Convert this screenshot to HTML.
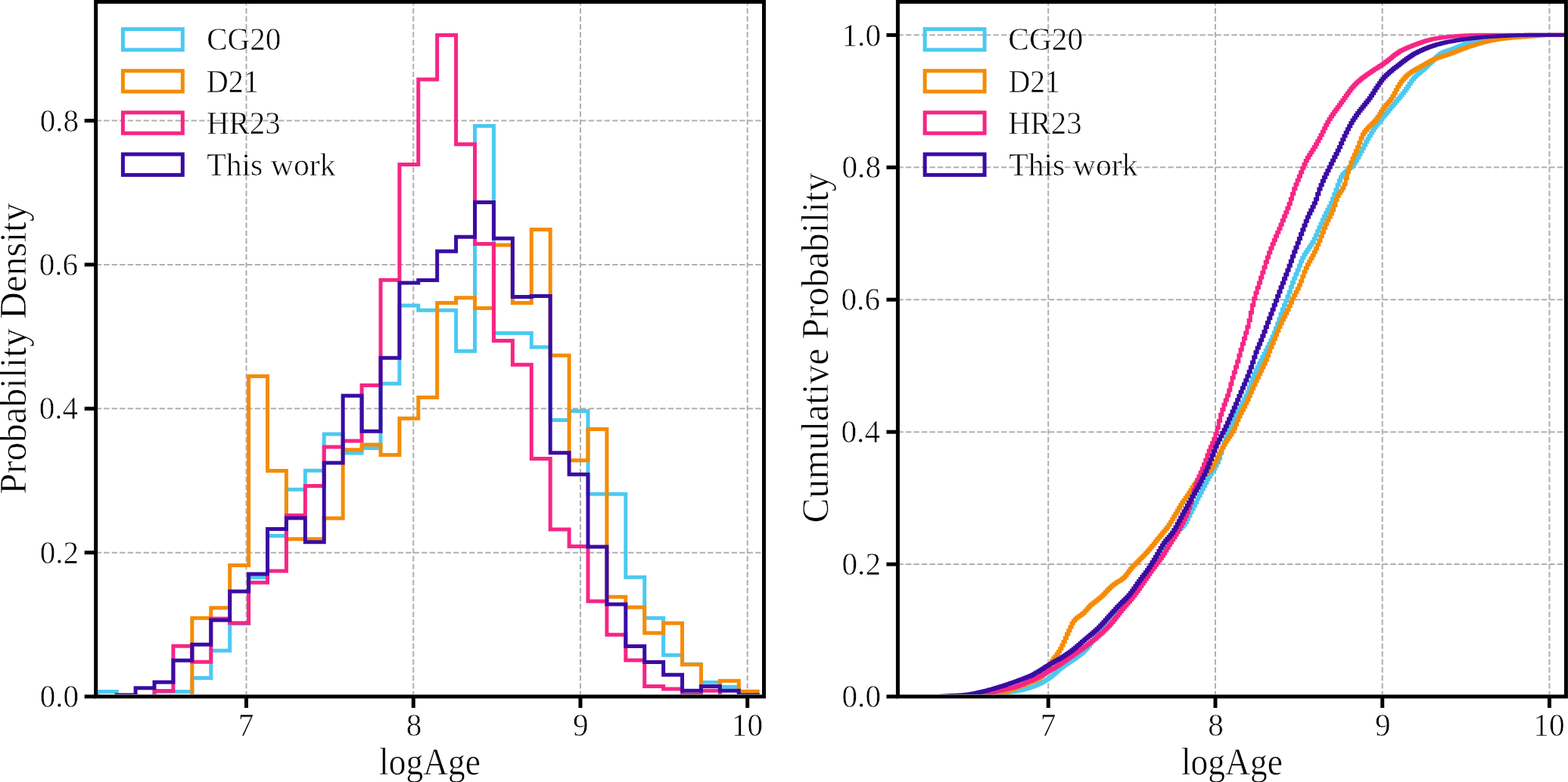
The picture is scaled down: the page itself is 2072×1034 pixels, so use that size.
<!DOCTYPE html>
<html><head><meta charset="utf-8"><title>logAge distributions</title>
<style>html,body{margin:0;padding:0;background:#fff;}svg{display:block;}text{font-family:'Liberation Serif', 'DejaVu Serif', serif;fill:#000;stroke:#fff;stroke-width:0.6;}</style></head><body>
<svg width="2072" height="1034" viewBox="0 0 2072 1034">
<rect x="0" y="0" width="2072" height="1034" fill="#fff"/>
<defs>
<clipPath id="cl"><rect x="129.15" y="5" width="877.85" height="913"/></clipPath>
<clipPath id="cr"><rect x="1188.9" y="5" width="878" height="913"/></clipPath>
</defs>
<g clip-path="url(#cl)" stroke="#b0b0b0" stroke-width="2" stroke-dasharray="7.33 3.17" fill="none"><line x1="325.5" y1="921" x2="325.5" y2="2.4"/><line x1="546.25" y1="921" x2="546.25" y2="2.4"/><line x1="766.95" y1="921" x2="766.95" y2="2.4"/><line x1="987.7" y1="921" x2="987.7" y2="2.4"/><line x1="126.65" y1="730.64" x2="1009.5" y2="730.64"/><line x1="126.65" y1="540.28" x2="1009.5" y2="540.28"/><line x1="126.65" y1="349.92" x2="1009.5" y2="349.92"/><line x1="126.65" y1="159.56" x2="1009.5" y2="159.56"/></g>
<g clip-path="url(#cl)" fill="none" stroke-width="5" stroke-linejoin="miter" stroke-linecap="butt">
<path d="M129.3 921 L129.3 914.6 L154.21 914.6 L154.21 921 L179.12 921 L204.03 921 L204.03 914.6 L228.94 914.6 L253.86 914.6 L253.86 896.5 L278.77 896.5 L278.77 860.3 L303.68 860.3 L303.68 824.5 L328.59 824.5 L328.59 763.5 L353.5 763.5 L353.5 708.4 L378.41 708.4 L378.41 647.3 L403.32 647.3 L403.32 622.3 L428.23 622.3 L428.23 574 L453.14 574 L453.14 599.1 L478.05 599.1 L478.05 592.6 L502.97 592.6 L502.97 507.3 L527.88 507.3 L527.88 404.1 L552.79 404.1 L552.79 410.3 L577.7 410.3 L577.7 410.2 L602.61 410.2 L602.61 464.3 L627.52 464.3 L627.52 166.6 L652.43 166.6 L652.43 440.4 L677.34 440.4 L702.25 440.4 L702.25 458.9 L727.16 458.9 L727.16 555.6 L752.08 555.6 L752.08 543.5 L776.99 543.5 L776.99 653.3 L801.9 653.3 L826.81 653.3 L826.81 763.3 L851.72 763.3 L851.72 817.3 L876.63 817.3 L876.63 866.2 L901.54 866.2 L901.54 878.2 L926.45 878.2 L926.45 902.3 L951.36 902.3 L951.36 908.3 L976.27 908.3 L976.27 921 L1001.18 921" stroke="#4cc9f0"/>
<path d="M129.3 921 L154.21 921 L179.12 921 L204.03 921 L228.94 921 L253.86 921 L253.86 817.2 L278.77 817.2 L278.77 803.7 L303.68 803.7 L303.68 747.5 L328.59 747.5 L328.59 497.6 L353.5 497.6 L353.5 622.4 L378.41 622.4 L378.41 712.7 L403.32 712.7 L428.23 712.7 L428.23 685.3 L453.14 685.3 L453.14 594.7 L478.05 594.7 L478.05 587.9 L502.97 587.9 L502.97 601.5 L527.88 601.5 L527.88 553.3 L552.79 553.3 L552.79 525.5 L577.7 525.5 L577.7 400.6 L602.61 400.6 L602.61 393.7 L627.52 393.7 L627.52 407.5 L652.43 407.5 L652.43 324.1 L677.34 324.1 L677.34 400.4 L702.25 400.4 L702.25 303.6 L727.16 303.6 L727.16 470 L752.08 470 L752.08 608.8 L776.99 608.8 L776.99 567.4 L801.9 567.4 L801.9 789.2 L826.81 789.2 L826.81 803.1 L851.72 803.1 L851.72 837.1 L876.63 837.1 L876.63 824 L901.54 824 L901.54 878.8 L926.45 878.8 L926.45 907.5 L951.36 907.5 L951.36 900.3 L976.27 900.3 L976.27 914.2 L1001.18 914.2 L1001.18 921" stroke="#f48c06"/>
<path d="M129.3 921 L154.21 921 L179.12 921 L204.03 921 L204.03 913.4 L228.94 913.4 L228.94 854.3 L253.86 854.3 L253.86 875.3 L278.77 875.3 L278.77 818 L303.68 818 L303.68 823.8 L328.59 823.8 L328.59 770.3 L353.5 770.3 L353.5 755 L378.41 755 L378.41 681.5 L403.32 681.5 L403.32 642.5 L428.23 642.5 L428.23 591 L453.14 591 L453.14 583 L478.05 583 L478.05 509.6 L502.97 509.6 L502.97 370.3 L527.88 370.3 L527.88 217.6 L552.79 217.6 L552.79 105.1 L577.7 105.1 L577.7 46.4 L602.61 46.4 L602.61 190.7 L627.52 190.7 L627.52 322.5 L652.43 322.5 L652.43 450.4 L677.34 450.4 L677.34 482.3 L702.25 482.3 L702.25 606.6 L727.16 606.6 L727.16 700.1 L752.08 700.1 L752.08 722.4 L776.99 722.4 L776.99 795.1 L801.9 795.1 L801.9 839.2 L826.81 839.2 L826.81 872.9 L851.72 872.9 L851.72 907.4 L876.63 907.4 L876.63 911.1 L901.54 911.1 L901.54 918.4 L926.45 918.4 L926.45 913.3 L951.36 913.3 L951.36 921 L976.27 921 L1001.18 921" stroke="#f72585"/>
<path d="M129.3 921 L154.21 921 L154.21 919 L179.12 919 L179.12 909.7 L204.03 909.7 L204.03 901.9 L228.94 901.9 L228.94 873.2 L253.86 873.2 L253.86 852.3 L278.77 852.3 L278.77 820.1 L303.68 820.1 L303.68 782 L328.59 782 L328.59 758.9 L353.5 758.9 L353.5 699.6 L378.41 699.6 L378.41 685 L403.32 685 L403.32 716.8 L428.23 716.8 L428.23 612 L453.14 612 L453.14 523.2 L478.05 523.2 L478.05 570.2 L502.97 570.2 L502.97 473.2 L527.88 473.2 L527.88 374.1 L552.79 374.1 L552.79 370.6 L577.7 370.6 L577.7 332.2 L602.61 332.2 L602.61 313.3 L627.52 313.3 L627.52 267.6 L652.43 267.6 L652.43 315.2 L677.34 315.2 L677.34 392.6 L702.25 392.6 L702.25 391.5 L727.16 391.5 L727.16 598.8 L752.08 598.8 L752.08 627.3 L776.99 627.3 L776.99 722.9 L801.9 722.9 L801.9 799.1 L826.81 799.1 L826.81 854.4 L851.72 854.4 L851.72 875.4 L876.63 875.4 L876.63 892.3 L901.54 892.3 L901.54 913.3 L926.45 913.3 L926.45 907.5 L951.36 907.5 L951.36 913.3 L976.27 913.3 L976.27 919 L1001.18 919 L1001.18 921" stroke="#3a0ca3"/>
</g>
<g clip-path="url(#cr)" stroke="#b0b0b0" stroke-width="2" stroke-dasharray="7.33 3.17" fill="none"><line x1="1385.25" y1="921" x2="1385.25" y2="2.4"/><line x1="1606" y1="921" x2="1606" y2="2.4"/><line x1="1826.7" y1="921" x2="1826.7" y2="2.4"/><line x1="2047.45" y1="921" x2="2047.45" y2="2.4"/><line x1="1186.4" y1="746.07" x2="2069.4" y2="746.07"/><line x1="1186.4" y1="571.14" x2="2069.4" y2="571.14"/><line x1="1186.4" y1="396.21" x2="2069.4" y2="396.21"/><line x1="1186.4" y1="221.28" x2="2069.4" y2="221.28"/><line x1="1186.4" y1="46.35" x2="2069.4" y2="46.35"/></g>
<g clip-path="url(#cr)" fill="none" stroke-width="5" stroke-linejoin="miter" stroke-linecap="butt">
<path d="M1179.97 920.9H1288.13V920.9H1290.34V920.89H1292.54V920.86H1294.75V920.81H1296.96V920.72H1299.17V920.55H1301.37V920.3H1303.58V919.96H1305.79V919.54H1307.99V919.07H1310.2V918.58H1312.41V918.11H1314.62V917.69H1316.82V917.31H1319.03V916.99H1321.24V916.7H1323.45V916.43H1325.65V916.17H1327.86V915.92H1330.07V915.65H1332.27V915.37H1334.48V915.06H1336.69V914.73H1338.9V914.38H1341.1V914H1343.31V913.59H1345.52V913.16H1347.73V912.7H1349.93V912.21H1352.14V911.68H1354.35V911.11H1356.56V910.5H1358.76V909.83H1360.97V909.11H1363.18V908.33H1365.38V907.49H1367.59V906.58H1369.8V905.61H1372.01V904.56H1374.21V903.44H1376.42V902.25H1378.63V900.99H1380.84V899.65H1383.04V898.22H1385.25V896.7H1387.46V895.06H1389.66V893.29H1391.87V891.39H1394.08V889.41H1396.29V887.44H1398.49V885.57H1400.7V883.82H1402.91V882.18H1405.12V880.61H1407.32V879.09H1409.53V877.59H1411.74V876.09H1413.94V874.57H1416.15V873.04H1418.36V871.5H1420.57V869.95H1422.77V868.36H1424.98V866.73H1427.19V865H1429.4V863.15H1431.6V861.14H1433.81V858.9H1436.02V856.42H1438.23V853.71H1440.43V850.8H1442.64V847.8H1444.85V844.8H1447.05V841.87H1449.26V839.07H1451.47V836.4H1453.68V833.83H1455.88V831.32H1458.09V828.86H1460.3V826.42H1462.51V823.98H1464.71V821.53H1466.92V819.06H1469.13V816.57H1471.33V814.07H1473.54V811.55H1475.75V809.03H1477.96V806.5H1480.16V803.98H1482.37V801.46H1484.58V798.96H1486.79V796.45H1488.99V793.91H1491.2V791.31H1493.41V788.61H1495.62V785.77H1497.82V782.79H1500.03V779.69H1502.24V776.51H1504.44V773.32H1506.65V770.16H1508.86V767.05H1511.07V764H1513.27V760.96H1515.48V757.92H1517.69V754.85H1519.9V751.76H1522.1V748.63H1524.31V745.47H1526.52V742.25H1528.72V738.96H1530.93V735.55H1533.14V731.97H1535.35V728.24H1537.55V724.46H1539.76V720.78H1541.97V717.31H1544.18V714.06H1546.38V711.04H1548.59V708.32H1550.8V705.95H1553V703.92H1555.21V702.13H1557.42V700.42H1559.63V698.63H1561.83V696.49H1564.04V693.81H1566.25V690.38H1568.46V686.29H1570.66V681.91H1572.87V677.51H1575.08V673.11H1577.29V668.68H1579.49V664.24H1581.7V659.85H1583.91V655.49H1586.11V651.16H1588.32V646.82H1590.53V642.47H1592.74V638.15H1594.94V634H1597.15V630.16H1599.36V626.58H1601.57V623.09H1603.77V619.53H1605.98V615.74H1608.19V611.47H1610.39V606.21H1612.6V599.24H1614.81V591.56H1617.02V584.74H1619.22V578.65H1621.43V572.94H1623.64V567.45H1625.85V562.16H1628.05V557.15H1630.26V552.52H1632.47V548.29H1634.67V544.34H1636.88V540.48H1639.09V536.55H1641.3V532.46H1643.5V528.16H1645.71V523.61H1647.92V518.56H1650.13V512.71H1652.33V506.1H1654.54V499.9H1656.75V494.58H1658.96V489.82H1661.16V485.3H1663.37V480.84H1665.58V476.4H1667.78V471.99H1669.99V467.61H1672.2V463.26H1674.41V458.94H1676.61V454.58H1678.82V450H1681.03V445.07H1683.24V439.71H1685.44V433.99H1687.65V427.97H1689.86V421.65H1692.06V415.21H1694.27V409.06H1696.48V403.33H1698.69V397.77H1700.89V392.04H1703.1V385.92H1705.31V379.62H1707.52V373.59H1709.72V367.92H1711.93V362.45H1714.14V356.96H1716.35V351.36H1718.55V345.86H1720.76V340.95H1722.97V336.81H1725.17V333.25H1727.38V330.01H1729.59V326.85H1731.8V323.55H1734V319.89H1736.21V315.68H1738.42V310.91H1740.63V305.86H1742.83V300.8H1745.04V295.79H1747.25V290.86H1749.45V286.11H1751.66V281.62H1753.87V277.3H1756.08V272.95H1758.28V268.24H1760.49V262.87H1762.7V256.86H1764.91V250.7H1767.11V244.61H1769.32V238.73H1771.53V233.92H1773.73V230.54H1775.94V228.14H1778.15V226.28H1780.36V224.63H1782.56V222.96H1784.77V221.07H1786.98V218.72H1789.19V215.76H1791.39V212.2H1793.6V208.27H1795.81V204.23H1798.02V200.18H1800.22V196.06H1802.43V191.85H1804.64V187.61H1806.84V183.44H1809.05V179.43H1811.26V175.67H1813.47V172.19H1815.67V168.98H1817.88V165.99H1820.09V163.14H1822.3V160.41H1824.5V157.72H1826.71V155.05H1828.92V152.39H1831.12V149.74H1833.33V147.1H1835.54V144.47H1837.75V141.84H1839.95V139.21H1842.16V136.58H1844.37V133.94H1846.58V131.29H1848.78V128.63H1850.99V125.95H1853.2V123.2H1855.4V120.32H1857.61V117.22H1859.82V113.9H1862.03V110.5H1864.23V107.3H1866.44V104.48H1868.65V102.02H1870.86V99.85H1873.06V97.85H1875.27V95.94H1877.48V94.05H1879.69V92.14H1881.89V90.19H1884.1V88.17H1886.31V86.12H1888.51V84.03H1890.72V81.92H1892.93V79.76H1895.14V77.57H1897.34V75.4H1899.55V73.39H1901.76V71.66H1903.97V70.21H1906.17V69.09H1908.38V68.18H1910.59V67.4H1912.79V66.71H1915V66.05H1917.21V65.35H1919.42V64.59H1921.62V63.75H1923.83V62.83H1926.04V61.86H1928.25V60.86H1930.45V59.88H1932.66V58.97H1934.87V58.12H1937.08V57.36H1939.28V56.68H1941.49V56.06H1943.7V55.48H1945.9V54.94H1948.11V54.43H1950.32V53.95H1952.53V53.48H1954.73V53.03H1956.94V52.6H1959.15V52.19H1961.36V51.79H1963.56V51.4H1965.77V51.03H1967.98V50.67H1970.18V50.33H1972.39V50.01H1974.6V49.7H1976.81V49.42H1979.01V49.15H1981.22V48.9H1983.43V48.66H1985.64V48.43H1987.84V48.22H1990.05V48.01H1992.26V47.82H1994.46V47.63H1996.67V47.45H1998.88V47.28H2001.09V47.12H2003.29V46.97H2005.5V46.85H2007.71V46.74H2009.92V46.64H2012.12V46.57H2014.33V46.5H2016.54V46.45H2018.75V46.4H2020.95V46.36H2023.16V46.32H2025.37V46.3H2027.57V46.28H2029.78V46.26H2031.99V46.26H2034.2V46.25H2036.4V46.25H2078.34V46.25" stroke="#4cc9f0"/>
<path d="M1179.97 920.9H1299.17V920.9H1301.37V920.89H1303.58V920.87H1305.79V920.82H1307.99V920.71H1310.2V920.47H1312.41V920.07H1314.62V919.46H1316.82V918.65H1319.03V917.71H1321.24V916.73H1323.45V915.83H1325.65V915.06H1327.86V914.41H1330.07V913.82H1332.27V913.23H1334.48V912.57H1336.69V911.8H1338.9V910.96H1341.1V910.06H1343.31V909.15H1345.52V908.25H1347.73V907.36H1349.93V906.48H1352.14V905.61H1354.35V904.74H1356.56V903.87H1358.76V903H1360.97V902.12H1363.18V901.24H1365.38V900.34H1367.59V899.4H1369.8V898.36H1372.01V897.16H1374.21V895.71H1376.42V893.83H1378.63V891.45H1380.84V888.48H1383.04V885.05H1385.25V881.27H1387.46V877.4H1389.66V873.8H1391.87V870.59H1394.08V867.63H1396.29V864.65H1398.49V861.38H1400.7V857.63H1402.91V853.37H1405.12V848.59H1407.32V843.47H1409.53V838.54H1411.74V833.85H1413.94V828.98H1416.15V824.36H1418.36V820.93H1420.57V818.5H1422.77V816.6H1424.98V815H1427.19V813.47H1429.4V811.84H1431.6V809.9H1433.81V807.54H1436.02V804.92H1438.23V802.46H1440.43V800.31H1442.64V798.42H1444.85V796.68H1447.05V794.99H1449.26V793.31H1451.47V791.56H1453.68V789.69H1455.88V787.65H1458.09V785.44H1460.3V783.11H1462.51V780.77H1464.71V778.5H1466.92V776.33H1469.13V774.35H1471.33V772.56H1473.54V771H1475.75V769.61H1477.96V768.29H1480.16V766.91H1482.37V765.34H1484.58V763.4H1486.79V760.96H1488.99V758.07H1491.2V755.06H1493.41V752.24H1495.62V749.69H1497.82V747.35H1500.03V745.13H1502.24V742.96H1504.44V740.78H1506.65V738.56H1508.86V736.29H1511.07V733.98H1513.27V731.62H1515.48V729.19H1517.69V726.69H1519.9V724.08H1522.1V721.39H1524.31V718.64H1526.52V715.87H1528.72V713.12H1530.93V710.41H1533.14V707.73H1535.35V705.08H1537.55V702.45H1539.76V699.77H1541.97V696.92H1544.18V693.79H1546.38V690.3H1548.59V686.57H1550.8V682.74H1553V678.93H1555.21V675.13H1557.42V671.38H1559.63V667.75H1561.83V664.34H1564.04V661.17H1566.25V658.12H1568.46V654.97H1570.66V651.57H1572.87V647.92H1575.08V644.25H1577.29V640.91H1579.49V638.09H1581.7V635.72H1583.91V633.65H1586.11V631.73H1588.32V629.89H1590.53V628.08H1592.74V626.25H1594.94V624.38H1597.15V622.38H1599.36V620.12H1601.57V617.37H1603.77V613.87H1605.98V609.5H1608.19V604.82H1610.39V600.41H1612.6V596.2H1614.81V592H1617.02V587.88H1619.22V584.1H1621.43V580.73H1623.64V577.58H1625.85V574.39H1628.05V570.81H1630.26V566.48H1632.47V561.22H1634.67V555.67H1636.88V550.65H1639.09V546.19H1641.3V542H1643.5V537.79H1645.71V533.35H1647.92V528.63H1650.13V523.71H1652.33V518.73H1654.54V513.75H1656.75V508.79H1658.96V503.9H1661.16V499.2H1663.37V494.72H1665.58V490.34H1667.78V485.87H1669.99V481.1H1672.2V475.89H1674.41V470.37H1676.61V464.8H1678.82V459.26H1681.03V453.76H1683.24V448.31H1685.44V442.88H1687.65V437.53H1689.86V432.34H1692.06V427.44H1694.27V422.84H1696.48V418.42H1698.69V414.01H1700.89V409.48H1703.1V404.75H1705.31V399.88H1707.52V395.07H1709.72V390.49H1711.93V386.11H1714.14V381.75H1716.35V377.08H1718.55V371.68H1720.76V365.47H1722.97V359.42H1725.17V354.28H1727.38V349.84H1729.59V345.74H1731.8V341.73H1734V337.63H1736.21V333.32H1738.42V328.68H1740.63V323.62H1742.83V318.18H1745.04V312.58H1747.25V306.97H1749.45V301.41H1751.66V296.13H1753.87V291.34H1756.08V286.96H1758.28V282.61H1760.49V277.73H1762.7V271.53H1764.91V264.3H1767.11V258.95H1769.32V255.27H1771.53V252.13H1773.73V248.72H1775.94V243.86H1778.15V235.81H1780.36V227.45H1782.56V220.69H1784.77V214.74H1786.98V209.38H1789.19V204.44H1791.39V199.61H1793.6V194.43H1795.81V188.59H1798.02V182.65H1800.22V177.86H1802.43V174.25H1804.64V171.38H1806.84V168.94H1809.05V166.74H1811.26V164.64H1813.47V162.5H1815.67V160.18H1817.88V157.56H1820.09V154.54H1822.3V151.11H1824.5V147.54H1826.71V144.19H1828.92V141.23H1831.12V138.6H1833.33V136.11H1835.54V133.52H1837.75V130.6H1839.95V127.09H1842.16V122.98H1844.37V118.67H1846.58V114.66H1848.78V111.13H1850.99V107.99H1853.2V105.19H1855.4V102.71H1857.61V100.51H1859.82V98.57H1862.03V96.82H1864.23V95.24H1866.44V93.77H1868.65V92.41H1870.86V91.11H1873.06V89.87H1875.27V88.66H1877.48V87.46H1879.69V86.24H1881.89V85.01H1884.1V83.75H1886.31V82.49H1888.51V81.24H1890.72V80.04H1892.93V78.92H1895.14V77.92H1897.34V77.02H1899.55V76.21H1901.76V75.48H1903.97V74.8H1906.17V74.14H1908.38V73.48H1910.59V72.78H1912.79V72.03H1915V71.24H1917.21V70.4H1919.42V69.53H1921.62V68.65H1923.83V67.76H1926.04V66.89H1928.25V66.04H1930.45V65.22H1932.66V64.41H1934.87V63.63H1937.08V62.86H1939.28V62.1H1941.49V61.36H1943.7V60.63H1945.9V59.92H1948.11V59.23H1950.32V58.54H1952.53V57.88H1954.73V57.24H1956.94V56.63H1959.15V56.04H1961.36V55.48H1963.56V54.95H1965.77V54.45H1967.98V53.98H1970.18V53.54H1972.39V53.13H1974.6V52.75H1976.81V52.38H1979.01V52.04H1981.22V51.72H1983.43V51.42H1985.64V51.14H1987.84V50.89H1990.05V50.65H1992.26V50.44H1994.46V50.24H1996.67V50.06H1998.88V49.89H2001.09V49.72H2003.29V49.56H2005.5V49.4H2007.71V49.24H2009.92V49.08H2012.12V48.91H2014.33V48.75H2016.54V48.58H2018.75V48.41H2020.95V48.24H2023.16V48.06H2025.37V47.88H2027.57V47.7H2029.78V47.5H2031.99V47.31H2034.2V47.11H2036.4V46.92H2038.61V46.74H2040.82V46.59H2043.03V46.47H2045.23V46.38H2047.44V46.32H2049.65V46.28H2051.85V46.26H2054.06V46.25H2056.27V46.25H2058.48V46.25H2078.34V46.25" stroke="#f48c06"/>
<path d="M1179.97 920.9H1279.3V920.9H1281.51V920.89H1283.71V920.88H1285.92V920.85H1288.13V920.77H1290.34V920.62H1292.54V920.36H1294.75V919.96H1296.96V919.44H1299.17V918.81H1301.37V918.14H1303.58V917.46H1305.79V916.81H1307.99V916.19H1310.2V915.59H1312.41V915.02H1314.62V914.47H1316.82V913.92H1319.03V913.4H1321.24V912.88H1323.45V912.39H1325.65V911.9H1327.86V911.43H1330.07V910.95H1332.27V910.47H1334.48V909.97H1336.69V909.42H1338.9V908.83H1341.1V908.17H1343.31V907.45H1345.52V906.67H1347.73V905.83H1349.93V904.93H1352.14V903.99H1354.35V903.04H1356.56V902.07H1358.76V901.11H1360.97V900.14H1363.18V899.16H1365.38V898.16H1367.59V897.14H1369.8V896.07H1372.01V894.95H1374.21V893.77H1376.42V892.55H1378.63V891.28H1380.84V889.98H1383.04V888.67H1385.25V887.37H1387.46V886.06H1389.66V884.75H1391.87V883.44H1394.08V882.09H1396.29V880.71H1398.49V879.3H1400.7V877.83H1402.91V876.33H1405.12V874.79H1407.32V873.23H1409.53V871.66H1411.74V870.1H1413.94V868.53H1416.15V866.98H1418.36V865.45H1420.57V863.91H1422.77V862.38H1424.98V860.84H1427.19V859.28H1429.4V857.7H1431.6V856.09H1433.81V854.44H1436.02V852.77H1438.23V851.07H1440.43V849.33H1442.64V847.57H1444.85V845.76H1447.05V843.92H1449.26V842.04H1451.47V840.12H1453.68V838.16H1455.88V836.16H1458.09V834.11H1460.3V831.99H1462.51V829.8H1464.71V827.51H1466.92V825.1H1469.13V822.56H1471.33V819.86H1473.54V817.04H1475.75V814.15H1477.96V811.26H1480.16V808.42H1482.37V805.68H1484.58V803.03H1486.79V800.46H1488.99V797.94H1491.2V795.41H1493.41V792.85H1495.62V790.21H1497.82V787.46H1500.03V784.56H1502.24V781.54H1504.44V778.4H1506.65V775.21H1508.86V772H1511.07V768.79H1513.27V765.59H1515.48V762.39H1517.69V759.2H1519.9V756.06H1522.1V752.98H1524.31V749.99H1526.52V747.07H1528.72V744.19H1530.93V741.29H1533.14V738.28H1535.35V735.11H1537.55V731.72H1539.76V728.1H1541.97V724.38H1544.18V720.69H1546.38V717.15H1548.59V713.77H1550.8V710.45H1553V707.04H1555.21V703.39H1557.42V699.45H1559.63V695.39H1561.83V691.32H1564.04V687.12H1566.25V682.54H1568.46V677.41H1570.66V671.6H1572.87V664.77H1575.08V656.46H1577.29V647.67H1579.49V640.28H1581.7V634.55H1583.91V629.63H1586.11V624.8H1588.32V619.64H1590.53V614.1H1592.74V608.23H1594.94V602.03H1597.15V596.01H1599.36V590.74H1601.57V585.78H1603.77V580.26H1605.98V573.59H1608.19V565.56H1610.39V556.44H1612.6V548.37H1614.81V541.46H1617.02V535.07H1619.22V529H1621.43V522.94H1623.64V516.09H1625.85V507.79H1628.05V499.41H1630.26V492.19H1632.47V485.33H1634.67V477.94H1636.88V469.98H1639.09V462.18H1641.3V454.74H1643.5V447.4H1645.71V440.06H1647.92V432.35H1650.13V423.4H1652.33V413.2H1654.54V403.53H1656.75V394.82H1658.96V387.3H1661.16V380.54H1663.37V373.9H1665.58V367.1H1667.78V360.24H1669.99V353.38H1672.2V346.59H1674.41V340.13H1676.61V334.09H1678.82V328.37H1681.03V322.86H1683.24V317.5H1685.44V312.31H1687.65V307.23H1689.86V302.15H1692.06V296.94H1694.27V291.57H1696.48V286.12H1698.69V280.66H1700.89V275.16H1703.1V269.38H1705.31V263.02H1707.52V256.15H1709.72V249.54H1711.93V243.64H1714.14V238.22H1716.35V232.99H1718.55V227.71H1720.76V222.37H1722.97V217.23H1725.17V212.62H1727.38V208.59H1729.59V204.94H1731.8V201.48H1734V198.03H1736.21V194.45H1738.42V190.69H1740.63V186.78H1742.83V182.73H1745.04V178.56H1747.25V174.21H1749.45V169.74H1751.66V165.32H1753.87V161.22H1756.08V157.5H1758.28V154.08H1760.49V150.88H1762.7V147.82H1764.91V144.83H1767.11V141.86H1769.32V138.85H1771.53V135.78H1773.73V132.63H1775.94V129.44H1778.15V126.26H1780.36V123.14H1782.56V120.14H1784.77V117.31H1786.98V114.69H1789.19V112.29H1791.39V110.09H1793.6V108.05H1795.81V106.15H1798.02V104.34H1800.22V102.62H1802.43V100.96H1804.64V99.34H1806.84V97.77H1809.05V96.23H1811.26V94.72H1813.47V93.26H1815.67V91.83H1817.88V90.42H1820.09V89.01H1822.3V87.6H1824.5V86.15H1826.71V84.65H1828.92V83.08H1831.12V81.43H1833.33V79.71H1835.54V77.93H1837.75V76.13H1839.95V74.35H1842.16V72.62H1844.37V70.99H1846.58V69.47H1848.78V68.08H1850.99V66.84H1853.2V65.7H1855.4V64.66H1857.61V63.69H1859.82V62.76H1862.03V61.87H1864.23V60.99H1866.44V60.12H1868.65V59.25H1870.86V58.39H1873.06V57.55H1875.27V56.74H1877.48V55.96H1879.69V55.22H1881.89V54.51H1884.1V53.85H1886.31V53.23H1888.51V52.64H1890.72V52.1H1892.93V51.61H1895.14V51.16H1897.34V50.77H1899.55V50.41H1901.76V50.1H1903.97V49.81H1906.17V49.54H1908.38V49.29H1910.59V49.05H1912.79V48.81H1915V48.57H1917.21V48.35H1919.42V48.13H1921.62V47.92H1923.83V47.72H1926.04V47.54H1928.25V47.38H1930.45V47.23H1932.66V47.09H1934.87V46.97H1937.08V46.85H1939.28V46.76H1941.49V46.67H1943.7V46.6H1945.9V46.54H1948.11V46.49H1950.32V46.44H1952.53V46.4H1954.73V46.36H1956.94V46.33H1959.15V46.31H1961.36V46.29H1963.56V46.27H1965.77V46.26H1967.98V46.26H1970.18V46.25H1972.39V46.25H2078.34V46.25" stroke="#f72585"/>
<path d="M1179.97 920.9H1226.32V920.9H1228.53V920.89H1230.74V920.87H1232.95V920.84H1235.15V920.78H1237.36V920.69H1239.57V920.57H1241.78V920.42H1243.98V920.27H1246.19V920.13H1248.4V919.99H1250.6V919.88H1252.81V919.77H1255.02V919.68H1257.23V919.59H1259.43V919.5H1261.64V919.4H1263.85V919.3H1266.06V919.19H1268.26V919.06H1270.47V918.91H1272.68V918.73H1274.88V918.51H1277.09V918.26H1279.3V917.98H1281.51V917.65H1283.71V917.3H1285.92V916.91H1288.13V916.5H1290.34V916.07H1292.54V915.61H1294.75V915.12H1296.96V914.61H1299.17V914.08H1301.37V913.52H1303.58V912.95H1305.79V912.36H1307.99V911.75H1310.2V911.13H1312.41V910.5H1314.62V909.85H1316.82V909.19H1319.03V908.52H1321.24V907.83H1323.45V907.14H1325.65V906.44H1327.86V905.73H1330.07V905H1332.27V904.26H1334.48V903.51H1336.69V902.75H1338.9V901.98H1341.1V901.2H1343.31V900.4H1345.52V899.6H1347.73V898.79H1349.93V897.96H1352.14V897.12H1354.35V896.25H1356.56V895.34H1358.76V894.4H1360.97V893.42H1363.18V892.38H1365.38V891.28H1367.59V890.09H1369.8V888.82H1372.01V887.48H1374.21V886.07H1376.42V884.63H1378.63V883.19H1380.84V881.77H1383.04V880.39H1385.25V879.06H1387.46V877.78H1389.66V876.53H1391.87V875.29H1394.08V874.04H1396.29V872.78H1398.49V871.48H1400.7V870.16H1402.91V868.8H1405.12V867.41H1407.32V865.98H1409.53V864.51H1411.74V862.99H1413.94V861.39H1416.15V859.74H1418.36V858H1420.57V856.19H1422.77V854.32H1424.98V852.42H1427.19V850.49H1429.4V848.57H1431.6V846.67H1433.81V844.8H1436.02V842.95H1438.23V841.12H1440.43V839.28H1442.64V837.42H1444.85V835.51H1447.05V833.53H1449.26V831.47H1451.47V829.3H1453.68V827.04H1455.88V824.67H1458.09V822.24H1460.3V819.76H1462.51V817.27H1464.71V814.78H1466.92V812.3H1469.13V809.84H1471.33V807.38H1473.54V804.94H1475.75V802.55H1477.96V800.22H1480.16V797.98H1482.37V795.81H1484.58V793.68H1486.79V791.52H1488.99V789.24H1491.2V786.78H1493.41V784.07H1495.62V781.1H1497.82V777.94H1500.03V774.71H1502.24V771.52H1504.44V768.44H1506.65V765.47H1508.86V762.57H1511.07V759.67H1513.27V756.72H1515.48V753.66H1517.69V750.44H1519.9V747.07H1522.1V743.55H1524.31V739.93H1526.52V736.21H1528.72V732.38H1530.93V728.45H1533.14V724.54H1535.35V720.88H1537.55V717.64H1539.76V714.81H1541.97V712.23H1544.18V709.72H1546.38V707.1H1548.59V704.16H1550.8V700.76H1553V696.92H1555.21V692.84H1557.42V688.67H1559.63V684.48H1561.83V680.33H1564.04V676.23H1566.25V672.19H1568.46V668.2H1570.66V664.26H1572.87V660.39H1575.08V656.58H1577.29V652.8H1579.49V648.95H1581.7V645H1583.91V640.91H1586.11V636.68H1588.32V632.29H1590.53V627.73H1592.74V622.97H1594.94V618.01H1597.15V612.81H1599.36V607.38H1601.57V601.82H1603.77V596.2H1605.98V590.68H1608.19V585.56H1610.39V581H1612.6V576.78H1614.81V572.62H1617.02V568.3H1619.22V563.73H1621.43V558.97H1623.64V554.09H1625.85V549.14H1628.05V544.12H1630.26V539.03H1632.47V533.88H1634.67V528.69H1636.88V523.45H1639.09V518.24H1641.3V513.07H1643.5V507.92H1645.71V502.66H1647.92V497.18H1650.13V491.43H1652.33V485.39H1654.54V478.95H1656.75V472.19H1658.96V465.78H1661.16V460.11H1663.37V454.9H1665.58V449.72H1667.78V444.23H1669.99V438.4H1672.2V432.46H1674.41V426.59H1676.61V420.81H1678.82V415.04H1681.03V409.23H1683.24V403.35H1685.44V397.44H1687.65V391.54H1689.86V385.68H1692.06V379.87H1694.27V374.16H1696.48V368.58H1698.69V363.02H1700.89V357.3H1703.1V351.31H1705.31V345.14H1707.52V339.02H1709.72V333.06H1711.93V327.19H1714.14V321.34H1716.35V315.43H1718.55V309.5H1720.76V303.65H1722.97V297.92H1725.17V292.36H1727.38V287.11H1729.59V282.34H1731.8V277.93H1734V273.57H1736.21V268.81H1738.42V263.16H1740.63V256.58H1742.83V250.1H1745.04V244.43H1747.25V239.34H1749.45V234.56H1751.66V229.93H1753.87V225.4H1756.08V220.96H1758.28V216.58H1760.49V212.22H1762.7V207.85H1764.91V203.48H1767.11V199.02H1769.32V194.41H1771.53V189.57H1773.73V184.62H1775.94V179.77H1778.15V175.18H1780.36V170.8H1782.56V166.64H1784.77V162.7H1786.98V159.04H1789.19V155.63H1791.39V152.46H1793.6V149.46H1795.81V146.6H1798.02V143.81H1800.22V141.08H1802.43V138.33H1804.64V135.54H1806.84V132.66H1809.05V129.65H1811.26V126.47H1813.47V123.15H1815.67V119.73H1817.88V116.29H1820.09V112.92H1822.3V109.7H1824.5V106.7H1826.71V103.98H1828.92V101.52H1831.12V99.26H1833.33V97.19H1835.54V95.23H1837.75V93.39H1839.95V91.61H1842.16V89.87H1844.37V88.16H1846.58V86.46H1848.78V84.75H1850.99V83.04H1853.2V81.33H1855.4V79.64H1857.61V77.98H1859.82V76.4H1862.03V74.88H1864.23V73.45H1866.44V72.11H1868.65V70.85H1870.86V69.65H1873.06V68.52H1875.27V67.45H1877.48V66.43H1879.69V65.45H1881.89V64.52H1884.1V63.63H1886.31V62.78H1888.51V61.97H1890.72V61.2H1892.93V60.46H1895.14V59.77H1897.34V59.11H1899.55V58.49H1901.76V57.9H1903.97V57.35H1906.17V56.81H1908.38V56.31H1910.59V55.83H1912.79V55.37H1915V54.94H1917.21V54.52H1919.42V54.13H1921.62V53.75H1923.83V53.39H1926.04V53.04H1928.25V52.71H1930.45V52.39H1932.66V52.08H1934.87V51.79H1937.08V51.51H1939.28V51.23H1941.49V50.97H1943.7V50.71H1945.9V50.46H1948.11V50.21H1950.32V49.97H1952.53V49.73H1954.73V49.51H1956.94V49.29H1959.15V49.09H1961.36V48.89H1963.56V48.72H1965.77V48.55H1967.98V48.4H1970.18V48.27H1972.39V48.14H1974.6V48.02H1976.81V47.91H1979.01V47.8H1981.22V47.7H1983.43V47.6H1985.64V47.49H1987.84V47.39H1990.05V47.29H1992.26V47.18H1994.46V47.08H1996.67V46.97H1998.88V46.87H2001.09V46.77H2003.29V46.69H2005.5V46.61H2007.71V46.55H2009.92V46.49H2012.12V46.45H2014.33V46.41H2016.54V46.37H2018.75V46.34H2020.95V46.32H2023.16V46.3H2025.37V46.28H2027.57V46.27H2029.78V46.26H2031.99V46.25H2034.2V46.25H2036.4V46.25H2078.34V46.25" stroke="#3a0ca3"/>
</g>
<rect x="126.65" y="2.4" width="882.85" height="918.6" fill="none" stroke="#000" stroke-width="5"/><g stroke="#000" stroke-width="5"><line x1="325.5" y1="921" x2="325.5" y2="936"/><line x1="546.25" y1="921" x2="546.25" y2="936"/><line x1="766.95" y1="921" x2="766.95" y2="936"/><line x1="987.7" y1="921" x2="987.7" y2="936"/><line x1="126.65" y1="921" x2="111.65" y2="921"/><line x1="126.65" y1="730.64" x2="111.65" y2="730.64"/><line x1="126.65" y1="540.28" x2="111.65" y2="540.28"/><line x1="126.65" y1="349.92" x2="111.65" y2="349.92"/><line x1="126.65" y1="159.56" x2="111.65" y2="159.56"/></g>
<rect x="1186.4" y="2.4" width="883" height="918.6" fill="none" stroke="#000" stroke-width="5"/><g stroke="#000" stroke-width="5"><line x1="1385.25" y1="921" x2="1385.25" y2="936"/><line x1="1606" y1="921" x2="1606" y2="936"/><line x1="1826.7" y1="921" x2="1826.7" y2="936"/><line x1="2047.45" y1="921" x2="2047.45" y2="936"/><line x1="1186.4" y1="921" x2="1171.4" y2="921"/><line x1="1186.4" y1="746.07" x2="1171.4" y2="746.07"/><line x1="1186.4" y1="571.14" x2="1171.4" y2="571.14"/><line x1="1186.4" y1="396.21" x2="1171.4" y2="396.21"/><line x1="1186.4" y1="221.28" x2="1171.4" y2="221.28"/><line x1="1186.4" y1="46.35" x2="1171.4" y2="46.35"/></g>
<g><text x="104.15" y="935.2" font-size="41.2" text-anchor="end" textLength="51.48" lengthAdjust="spacingAndGlyphs">0.0</text><text x="104.15" y="744.84" font-size="41.2" text-anchor="end" textLength="51.48" lengthAdjust="spacingAndGlyphs">0.2</text><text x="103.15" y="554.48" font-size="41.2" text-anchor="end" textLength="51.48" lengthAdjust="spacingAndGlyphs">0.4</text><text x="103.15" y="364.12" font-size="41.2" text-anchor="end" textLength="51.48" lengthAdjust="spacingAndGlyphs">0.6</text><text x="104.15" y="173.76" font-size="41.2" text-anchor="end" textLength="51.48" lengthAdjust="spacingAndGlyphs">0.8</text><text x="1164" y="935.2" font-size="41.2" text-anchor="end" textLength="51.48" lengthAdjust="spacingAndGlyphs">0.0</text><text x="1164" y="760.27" font-size="41.2" text-anchor="end" textLength="51.48" lengthAdjust="spacingAndGlyphs">0.2</text><text x="1163" y="585.34" font-size="41.2" text-anchor="end" textLength="51.48" lengthAdjust="spacingAndGlyphs">0.4</text><text x="1163" y="410.41" font-size="41.2" text-anchor="end" textLength="51.48" lengthAdjust="spacingAndGlyphs">0.6</text><text x="1164" y="235.48" font-size="41.2" text-anchor="end" textLength="51.48" lengthAdjust="spacingAndGlyphs">0.8</text><text x="1164" y="60.55" font-size="41.2" text-anchor="end" textLength="51.48" lengthAdjust="spacingAndGlyphs">1.0</text><text x="325.1" y="972.5" font-size="41.2" text-anchor="middle" textLength="20.59" lengthAdjust="spacingAndGlyphs">7</text><text x="547.1" y="972.5" font-size="41.2" text-anchor="middle" textLength="20.59" lengthAdjust="spacingAndGlyphs">8</text><text x="767.4" y="972.5" font-size="41.2" text-anchor="middle" textLength="20.59" lengthAdjust="spacingAndGlyphs">9</text><text x="987.4" y="972.5" font-size="41.2" text-anchor="middle" textLength="41.19" lengthAdjust="spacingAndGlyphs">10</text><text x="1385.1" y="972.5" font-size="41.2" text-anchor="middle" textLength="20.59" lengthAdjust="spacingAndGlyphs">7</text><text x="1606.6" y="972.5" font-size="41.2" text-anchor="middle" textLength="20.59" lengthAdjust="spacingAndGlyphs">8</text><text x="1827.4" y="972.5" font-size="41.2" text-anchor="middle" textLength="20.59" lengthAdjust="spacingAndGlyphs">9</text><text x="2046.9" y="972.5" font-size="41.2" text-anchor="middle" textLength="41.19" lengthAdjust="spacingAndGlyphs">10</text><text x="273.25" y="66.4" font-size="41.5" textLength="98.02" lengthAdjust="spacingAndGlyphs">CG20</text><text x="272.75" y="121.55" font-size="41.5" textLength="69.24" lengthAdjust="spacingAndGlyphs">D21</text><text x="273.15" y="176.7" font-size="41.5" textLength="97.48" lengthAdjust="spacingAndGlyphs">HR23</text><text x="273.15" y="231.85" font-size="41.5" textLength="170.37" lengthAdjust="spacingAndGlyphs">This work</text><text x="1332.25" y="66.4" font-size="41.5" textLength="99.06" lengthAdjust="spacingAndGlyphs">CG20</text><text x="1332.75" y="121.55" font-size="41.5" textLength="68.15" lengthAdjust="spacingAndGlyphs">D21</text><text x="1332.15" y="176.7" font-size="41.5" textLength="97.48" lengthAdjust="spacingAndGlyphs">HR23</text><text x="1333.15" y="231.85" font-size="41.5" textLength="170.36" lengthAdjust="spacingAndGlyphs">This work</text></g>
<g font-size="50"><text x="568.08" y="1023.8" text-anchor="middle" textLength="134" lengthAdjust="spacingAndGlyphs">logAge</text><text x="1627.9" y="1023.8" text-anchor="middle" textLength="134" lengthAdjust="spacingAndGlyphs">logAge</text><text transform="translate(33.9 460.9) rotate(-90)" text-anchor="middle" textLength="385" lengthAdjust="spacingAndGlyphs">Probability Density</text><text transform="translate(1094.4 460.05) rotate(-90)" text-anchor="middle" textLength="463" lengthAdjust="spacingAndGlyphs">Cumulative Probability</text></g>
<g fill="none" stroke-width="5"><rect x="162.4" y="38.5" width="78.9" height="27.4" stroke="#4cc9f0"/><rect x="162.4" y="93.65" width="78.9" height="27.4" stroke="#f48c06"/><rect x="162.4" y="148.8" width="78.9" height="27.4" stroke="#f72585"/><rect x="162.4" y="203.95" width="78.9" height="27.4" stroke="#3a0ca3"/></g>
<g fill="none" stroke-width="5"><rect x="1222.15" y="38.5" width="78.9" height="27.4" stroke="#4cc9f0"/><rect x="1222.15" y="93.65" width="78.9" height="27.4" stroke="#f48c06"/><rect x="1222.15" y="148.8" width="78.9" height="27.4" stroke="#f72585"/><rect x="1222.15" y="203.95" width="78.9" height="27.4" stroke="#3a0ca3"/></g>
</svg></body></html>
